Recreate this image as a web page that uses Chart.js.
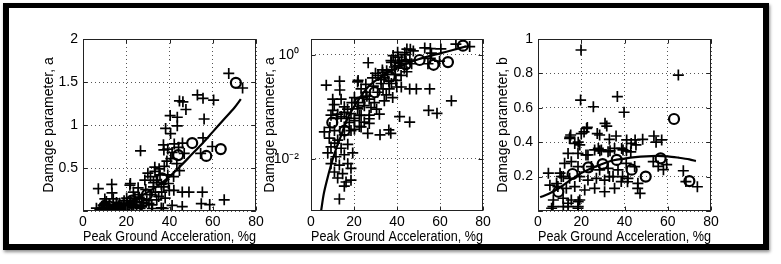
<!DOCTYPE html>
<html>
<head>
<meta charset="utf-8">
<script src="https://cdn.jsdelivr.net/npm/chart.js"></script>
<style>
  body { margin: 0; background: #fff; }
  #lienzo { position: relative; width: 781px; height: 264px; overflow: hidden; background: #fff; }
  #lienzo canvas { position: absolute; left: 0; top: 0; }
  #marco {
    position: absolute; left: 3px; top: 3px; width: 766px; height: 247px;
    box-sizing: border-box; border: 6px solid #000; border-top-width: 5px;
    box-shadow: 1px 2px 3px rgba(0,0,0,0.45);
  }
</style>
</head>
<body>
<div id="lienzo">
  <div id="marco"></div>
  <canvas id="g1" width="781" height="264"></canvas>
  <canvas id="g2" width="781" height="264"></canvas>
  <canvas id="g3" width="781" height="264"></canvas>
</div>
<script>
const crucesA = [
  [67.4,1.60],[73.8,1.43],[52.9,1.35],[55.5,1.31],[60.4,1.29],[44.6,1.28],[46.2,1.27],[47.6,1.18],
  [43.6,1.09],[56,1.07],[43.6,0.99],[38.2,0.96],[40.5,0.90],[55.5,0.85],[59.8,0.75],[26.6,0.70],
  [37.4,0.71],[39.2,0.72],[42.2,0.78],[44.2,0.74],[46,0.79],[46.8,0.67],[41.2,0.68],[54.4,0.67],
  [40.6,0.61],[43.4,0.55],[37.6,0.52],[33.2,0.51],[35.2,0.49],[44.6,0.47],[39.2,0.42],[35.6,0.42],
  [31.2,0.40],[28.6,0.36],[32.6,0.33],[36.2,0.31],[39.5,0.32],[41.9,0.40],[38.8,0.58],[37.2,0.77],
  [33.3,0.46],[40.3,1.11],[34,0.36],[30,0.44],
  [7.1,0.26],[13.3,0.31],[13.4,0.21],[21.9,0.32],[37.4,0.28],[42,0.24],[45.9,0.22],[49,0.22],
  [55.2,0.22],[54.7,0.085],[58.6,0.075],[65.3,0.13],[41.2,0.065],[45.9,0.051],[32.1,0.029],[36.2,0.036],
  [37.1,0.031],[39.9,0.24],[32.6,0.28],[31,0.19],[36.4,0.22],[29.5,0.12],[34.1,0.13],[38,0.15],[31.8,0.072],
  [10.1,0.14],[14,0.14],[10.8,0.11],[15.5,0.10],[10.1,0.085],[12.4,0.072],[15.5,0.078],
  [21.7,0.30],[23.3,0.22],[25.6,0.19],[20.2,0.15],[27.1,0.14],[24.8,0.105],[27.9,0.097],[21.7,0.091],
  [23.3,0.068],[20.2,0.054],[27.1,0.059],[17.8,0.05],[23.3,0.041],[15.5,0.041],[20.2,0.037],
  [29,0.25],[25.5,0.27],[33.5,0.22],[35,0.17],[30.5,0.09],[26,0.16],[19,0.12],[17,0.09],
  [12,0.06],[8.8,0.04],[11,0.02],[16.5,0.06],[22,0.12],[24,0.15],
  [6.2,0.033],[10.9,0.035],[8.5,0.025],[12.4,0.023],[15.5,0.029],[18.6,0.035],[22.5,0.042],[27.1,0.048],
  [26.4,0.031],[9.3,0.017],[14,0.016],[17.1,0.019],[7.8,0.013],[11.6,0.011],[15.5,0.012],[19.4,0.013],
  [9.3,0.0081],[13.2,0.0076],[17.1,0.0081],[10.9,0.0056],[14.7,0.0052],[18.6,0.0066],[12.4,0.0043],
  [16.3,0.0036],[18.6,0.0039],[15.5,0.003],[13.2,0.0017],[9.3,0.069],[14,0.065],[18.6,0.074],
  [20.2,0.06],[22.5,0.069],[27.1,0.069],[24.8,0.051]
];
// medias por intervalo (circulos)
const circulosA = [
  [9.9,0.05],[15.6,0.035],[22.6,0.12],[29.6,0.19],[36.6,0.38],[44,0.65],[50.5,0.79],[57,0.64],[63.7,0.72],[70.7,1.49]
];
// curva ajustada en el panel lineal
const curvaA = [
  [5,0],[8,0.005],[10,0.011],[12,0.02],[15,0.04],[20,0.09],[25,0.15],[30,0.22],[35,0.3],
  [40,0.4],[45,0.52],[50,0.65],[55,0.78],[60,0.92],[65,1.06],[70,1.2],[73,1.3]
];
// curva ajustada en el panel logaritmico
const curvaALog = [
  [4.7,0.001],[6,0.0022],[8.1,0.005],[10,0.0095],[12,0.017],[14,0.028],[16.6,0.055],[20,0.1],
  [22.8,0.15],[27,0.25],[33.6,0.4],[40,0.56],[44.5,0.68],[50,0.82],[55,0.94],[60,1.06],[66,1.23],[72.4,1.45]
];

// parametro de daño b (panel 3)
const crucesB = [
  [19.9,0.936],[64.9,0.79],[19.7,0.645],[25.6,0.606],[36.7,0.665],[39.8,0.574],[22.5,0.48],[31.8,0.494],
  [31,0.51],[27.4,0.45],[21.3,0.46],[14.8,0.43],[18.6,0.40],[36.1,0.436],[33,0.417],[41,0.413],
  [44.9,0.413],[48.4,0.417],[53.6,0.436],[57.2,0.413],[54.6,0.40],[45.3,0.384],[22.2,0.326],[27.9,0.364],
  [38.7,0.364],[40.9,0.35],[42.9,0.344],[28.6,0.35],[33.3,0.35],[53.3,0.287],[55.6,0.26],[58,0.24],
  [59.5,0.27],[67.2,0.234],[68.4,0.171],[73.7,0.141],[47.2,0.103],[46.1,0.132],[39.1,0.20],[41.4,0.17],
  [33,0.20],[11.7,0.20],[10.2,0.22],[8.6,0.16],[4.8,0.22],[5.5,0.15],[7.1,0.064],[11.7,0.025],
  [14,0.045],[6.3,0.016],[18.6,0.054],[18.6,0.025],
  [22.8,0.486],[28.5,0.442],[15.1,0.442],[20,0.45],
  [14.6,0.422],[17,0.393],[19.3,0.384],[13.9,0.335],[18.5,0.335],[23.1,0.326],[26.2,0.355],[29.3,0.355],
  [32.4,0.345],[35.4,0.364],[39.3,0.355],[43.1,0.393],
  [12.3,0.277],[15.4,0.287],[18.5,0.258],[24.7,0.258],[28.5,0.239],[32.4,0.248],[37,0.239],[40.8,0.277],[44.7,0.258],
  [10.8,0.2],[14.6,0.19],[19.3,0.2],[23.1,0.18],[27,0.19],[30.8,0.18],[34.7,0.2],[38.5,0.171],[41.6,0.19],[46.2,0.161],
  [9.2,0.142],[13.1,0.132],[17,0.142],[21.6,0.122],[26.2,0.132],[30.8,0.112],[35.4,0.132],
  [11.6,0.074],[15.4,0.064],[19.3,0.064],[13.9,0.025],[18.5,0.016],[6.9,0.025]
];
const circulosB = [
  [9.4,0.112],[16,0.215],[23.3,0.254],[29.9,0.273],[36.4,0.297],[43.3,0.24],[49.8,0.20],[56.7,0.306],[62.9,0.535],[70,0.174]
];
const curvaB = [
  [1,0.08],[5,0.10],[10,0.135],[15,0.18],[20,0.22],[25,0.25],[30,0.275],[35,0.295],[40,0.305],
  [45,0.313],[50,0.318],[55,0.32],[60,0.318],[65,0.31],[70,0.30],[73,0.29]
];

const ticksX = [0, 20, 40, 60, 80];
const ticksLog = [0.01, 1];
const etiquetasLog = { 0.01: '10\u207B\u00B2', 1: '10\u2070' };
const tituloX = 'Peak Ground Acceleration, %g';

Chart.defaults.font.family = '"Liberation Sans", Arial, sans-serif';
Chart.defaults.font.size = 14;
Chart.defaults.color = '#000';

const aPuntos = arr => arr.map(([x, y]) => ({ x, y }));

// caja de ejes tipo matlab con marcas hacia dentro
const marcoEjes = {
  id: 'marcoEjes',
  afterDatasetsDraw(chart) {
    const { ctx, chartArea: a, scales } = chart;
    const l = Math.round(a.left) + 0.5, r = Math.round(a.right) - 0.5;
    const t = Math.round(a.top) + 0.5, b = Math.round(a.bottom) - 0.5;
    ctx.save();
    ctx.strokeStyle = '#222';
    ctx.lineWidth = 1;
    ctx.setLineDash([]);
    ctx.strokeRect(l, t, r - l, b - t);
    ctx.beginPath();
    scales.x.ticks.forEach(tk => {
      const px = Math.round(scales.x.getPixelForValue(tk.value)) + 0.5;
      ctx.moveTo(px, b); ctx.lineTo(px, b - 4);
      ctx.moveTo(px, t); ctx.lineTo(px, t + 4);
    });
    scales.y.ticks.forEach(tk => {
      const py = Math.round(scales.y.getPixelForValue(tk.value)) + 0.5;
      ctx.moveTo(l, py); ctx.lineTo(l + 4, py);
      ctx.moveTo(r, py); ctx.lineTo(r - 4, py);
    });
    ctx.stroke();
    ctx.restore();
  }
};

function crearGrafico(id, cfg) {
  const ctx = document.getElementById(id).getContext('2d');
  return new Chart(ctx, {
    type: 'scatter',
    data: {
      datasets: [
        {
          type: 'line',
          data: aPuntos(cfg.curva),
          borderColor: '#000',
          borderWidth: 2.2,
          pointRadius: 0,
          fill: false,
          tension: 0.3
        },
        {
          data: aPuntos(cfg.circulos),
          pointStyle: 'circle',
          pointRadius: 5,
          borderWidth: 2.2,
          borderColor: '#000',
          backgroundColor: 'rgba(255,255,255,0)'
        },
        {
          data: aPuntos(cfg.cruces),
          pointStyle: 'cross',
          pointRadius: 5.5,
          borderWidth: 1.7,
          borderColor: '#000'
        }
      ]
    },
    options: {
      responsive: false,
      animation: false,
      devicePixelRatio: 1,
      layout: { padding: cfg.padding },
      plugins: { legend: { display: false }, tooltip: { enabled: false } },
      scales: {
        x: {
          type: 'linear',
          min: 0, max: 80,
          afterBuildTicks: s => { s.ticks = ticksX.map(v => ({ value: v })); },
          ticks: { padding: 3, maxRotation: 0, callback: v => String(v) },
          grid: { color: '#555', lineWidth: 1, drawTicks: false },
          border: { display: false, dash: [1, 3] },
          title: { display: true, text: tituloX, padding: 0 },
          afterFit: s => { s.height = 35; s.paddingLeft = 0; s.paddingRight = 0; }
        },
        y: cfg.ejeY
      }
    },
    plugins: [marcoEjes]
  });
}

function ejeLineal(max, paso, anchoEje, tituloY) {
  const valores = [];
  for (let v = 0; v <= max + 1e-9; v += paso) valores.push(Math.round(v * 10) / 10);
  return {
    type: 'linear',
    min: 0, max: max,
    afterBuildTicks: s => { s.ticks = valores.map(v => ({ value: v })); },
    ticks: { padding: 5, callback: v => (v === 0 ? '' : String(v)) },
    grid: { color: '#555', lineWidth: 1, drawTicks: false },
    border: { display: false, dash: [1, 3] },
    title: { display: true, text: tituloY, padding: 0 },
    afterFit: s => { s.width = anchoEje; s.paddingTop = 0; s.paddingBottom = 0; }
  };
}

// panel 1: a en escala lineal
crearGrafico('g1', {
  cruces: crucesA, circulos: circulosA, curva: curvaA,
  padding: { left: 41, right: 525, top: 39, bottom: 18 },
  ejeY: ejeLineal(2, 0.5, 42, 'Damage parameter, a')
});

// panel 2: a en escala logaritmica
crearGrafico('g2', {
  cruces: crucesA, circulos: circulosA, curva: curvaALog,
  padding: { left: 262, right: 298, top: 39, bottom: 18 },
  ejeY: {
    type: 'logarithmic',
    min: 0.001, max: 2,
    afterBuildTicks: s => { s.ticks = ticksLog.map(v => ({ value: v })); },
    ticks: { padding: 12, callback: v => etiquetasLog[v] || '' },
    grid: { color: '#555', lineWidth: 1, drawTicks: false },
    border: { display: false, dash: [1, 3] },
    title: { display: true, text: 'Damage parameter, a', padding: 0 },
    afterFit: s => { s.width = 49; s.paddingTop = 0; s.paddingBottom = 0; }
  }
});

// panel 3: b en escala lineal
crearGrafico('g3', {
  cruces: crucesB, circulos: circulosB, curva: curvaB,
  padding: { left: 495, right: 70, top: 39, bottom: 18 },
  ejeY: ejeLineal(1, 0.2, 43, 'Damage parameter, b')
});
</script>
</body>
</html>
